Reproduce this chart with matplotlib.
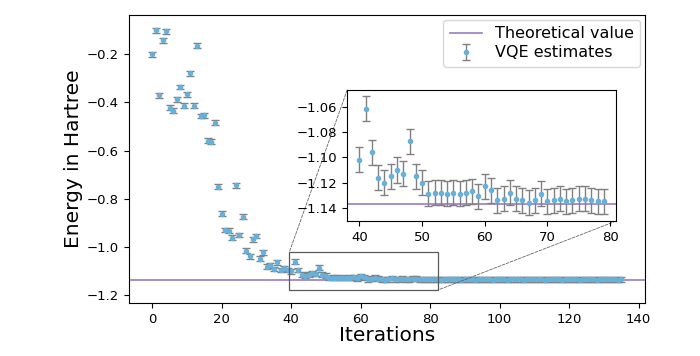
import numpy as np
import matplotlib
matplotlib.use('Agg')
import matplotlib.pyplot as plt
from matplotlib.ticker import MultipleLocator

# theoretical ground state energy (H2)
theoretical = -1.137

# VQE energy estimates per iteration
energies = [
    -0.200, -0.100, -0.370, -0.142, -0.105, -0.423, -0.435, -0.388, -0.336, -0.414,
    -0.366, -0.280, -0.414, -0.164, -0.457, -0.453, -0.560, -0.564, -0.485, -0.751,
    -0.862, -0.930, -0.933, -0.962, -0.744, -0.951, -0.875, -1.016, -1.040, -0.968,
    -0.955, -1.050, -1.023, -1.083, -1.076, -1.092, -1.064, -1.096, -1.089, -1.096,
    -1.102, -1.061, -1.096, -1.116, -1.120, -1.115, -1.110, -1.113, -1.087, -1.115,
    -1.120, -1.129, -1.128, -1.128, -1.129, -1.128, -1.129, -1.128, -1.127, -1.131,
    -1.123, -1.126, -1.134, -1.133, -1.128, -1.133, -1.134, -1.136, -1.134, -1.129,
    -1.135, -1.134, -1.133, -1.135, -1.134, -1.133, -1.133, -1.134, -1.135, -1.135,
    -1.134, -1.135, -1.134, -1.136, -1.135, -1.134, -1.135, -1.135, -1.134, -1.136,
    -1.135, -1.134, -1.135, -1.136, -1.135, -1.134, -1.135, -1.135, -1.136, -1.135,
    -1.134, -1.135, -1.136, -1.135, -1.135, -1.134, -1.135, -1.136, -1.135, -1.135,
    -1.134, -1.135, -1.135, -1.136, -1.135, -1.134, -1.135, -1.135, -1.136, -1.135,
    -1.135, -1.134, -1.135, -1.136, -1.135, -1.135, -1.134, -1.135, -1.136, -1.135,
    -1.135, -1.134, -1.135, -1.135, -1.136, -1.135,
]
errors = [0.01] * len(energies)
iterations = np.arange(len(energies))

# zoom window
zoom_start, zoom_end = 40, 80
zoom_bounds = [39.5, -1.179, 42.8, 0.159]

marker_col = '#67b0d9'
err_col = 'gray'
line_col = '#9b7bc0'

fig = plt.figure(figsize=(7, 3.56), dpi=100)
ax = fig.add_axes([0.184, 0.149, 0.737, 0.809])

ax.axhline(theoretical, color=line_col, lw=1.2, label='Theoretical value')
ax.errorbar(iterations, energies, yerr=errors, fmt='o', ms=3, color=marker_col,
            ecolor=err_col, elinewidth=1, capsize=3, label='VQE estimates')
ax.set_xlabel('Iterations', fontsize=14.5, labelpad=0)
ax.set_ylabel('Energy in Hartree', fontsize=14.5, labelpad=3)
ax.tick_params(labelsize=9.5)
ax.set_ylim(-1.233, -0.037)
ax.legend(loc='upper right', fontsize=11.5, labelspacing=0.25,
          borderaxespad=0.3)

# inset
axins = fig.add_axes([0.496, 0.379, 0.384, 0.368])
axins.axhline(theoretical, color=line_col, lw=1.2)
axins.errorbar(iterations[zoom_start:zoom_end], energies[zoom_start:zoom_end],
               yerr=errors[zoom_start:zoom_end], fmt='o', ms=3, color=marker_col,
               ecolor=err_col, elinewidth=1, capsize=3)
axins.yaxis.set_major_locator(MultipleLocator(0.02))
axins.tick_params(labelsize=9.5)

ind = ax.indicate_inset(bounds=zoom_bounds, inset_ax=axins, edgecolor='0.35',
                        alpha=1, lw=0.9)
conns = ind.connectors
for i, c in enumerate(conns):
    c.set_visible(i in (1, 2))
    c.set_linestyle('--')
    c.set_linewidth(0.6)
    c.set_color('0.4')

fig.savefig('out.png', dpi=100)
